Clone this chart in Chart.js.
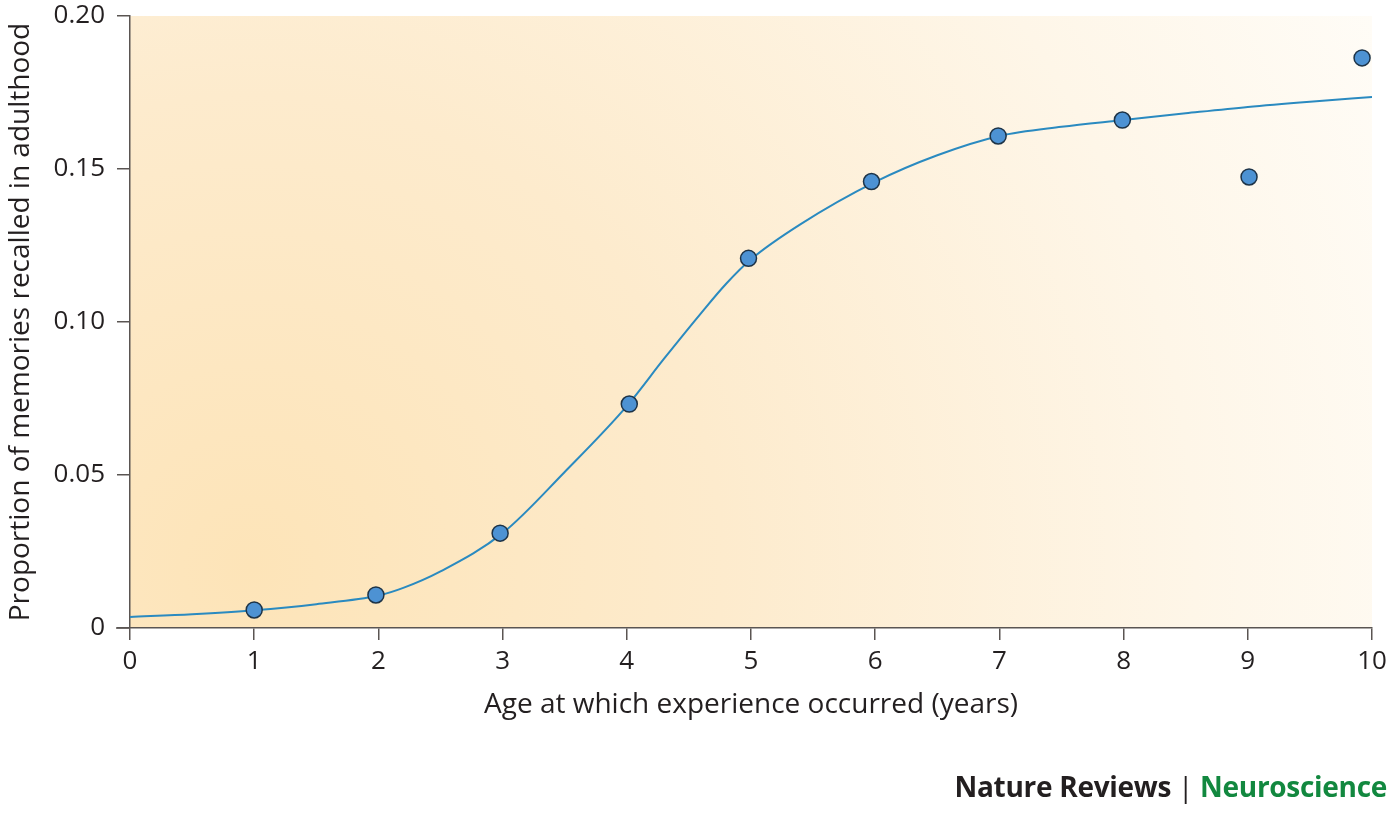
<!DOCTYPE html>
<html>
<head>
<meta charset="utf-8">
<script src="https://cdn.jsdelivr.net/npm/chart.js@4.4.1/dist/chart.umd.min.js"></script>
<style>
  html, body { margin: 0; padding: 0; background: #fff; }
  .wrap { position: relative; width: 1395px; height: 815px; }
  .credit {
    position: absolute; right: 8px; top: 767px;
    font-family: "Open Sans", sans-serif; font-weight: 700; font-size: 28px;
    color: #231f20; letter-spacing: -0.3px;
  }
  .credit .green { color: #12883f; }
  .credit .bar { font-weight: 400; color: #231f20; }
</style>
</head>
<body>
<div class="wrap">
  <canvas id="chart" width="1395" height="815"></canvas>
  <div class="credit">Nature Reviews <span class="bar">|</span> <span class="green">Neuroscience</span></div>
</div>
<script>
/*------data--------*/

// observed points (age, proportion)
var ages = [1, 1.98, 2.98, 4.02, 4.98, 5.97, 6.99, 7.99, 9.01, 9.92];
var proportions = [0.0059, 0.0108, 0.031, 0.0732, 0.1208, 0.1459, 0.1608, 0.166, 0.1474, 0.1863];

// fitted curve
var curveAges = [0, 0.5, 1, 1.5, 2, 2.2, 2.5, 3, 3.5, 4, 4.3, 4.6, 4.8, 5, 5.4, 6, 6.5, 7, 7.5, 8, 8.5, 9, 9.5, 10];
var curveValues = [0.0036, 0.0045, 0.0058, 0.0078, 0.0106, 0.0131, 0.0185, 0.0310, 0.0510, 0.0725, 0.0880, 0.1030, 0.1125, 0.1205, 0.1320, 0.1458, 0.1545, 0.1608, 0.1638, 0.1660, 0.1682, 0.1703, 0.1720, 0.1735];

var xTicks = [0, 1, 2, 3, 4, 5, 6, 7, 8, 9, 10];
var yTicks = [0, 0.05, 0.10, 0.15, 0.20];
var yTickLabels = ['0', '0.05', '0.10', '0.15', '0.20'];

/*------background--------*/

const bgPlugin = {
    id: 'bg',
    beforeDraw: function (chart) {
        const c = chart.ctx;
        const a = chart.chartArea;
        const g = c.createRadialGradient(a.left + 120, a.bottom - 60, 0, a.left + 120, a.bottom - 60, 1350);
        g.addColorStop(0, '#fde4b8');
        g.addColorStop(0.35, '#fdebcd');
        g.addColorStop(0.7, '#fef6e8');
        g.addColorStop(1, '#fffefb');
        c.save();
        c.fillStyle = g;
        c.fillRect(a.left, a.top, a.right - a.left, a.bottom - a.top);
        // x axis line runs a little past the y axis
        c.strokeStyle = '#5a5552';
        c.lineWidth = 1.5;
        c.beginPath();
        c.moveTo(a.left - 14, a.bottom);
        c.lineTo(a.left, a.bottom);
        c.stroke();
        c.restore();
    }
};

/*------chart--------*/

const ctx = document.getElementById('chart').getContext('2d');
const tickFont = { family: '"Open Sans", sans-serif', size: 26 };
const titleFont = { family: '"Open Sans", sans-serif', size: 28 };

const chart = new Chart(ctx, {
    type: 'scatter',
    data: {
        datasets: [{
            type: 'line',
            label: 'fit',
            data: curveAges.map(function (x, i) { return { x: x, y: curveValues[i] }; }),
            borderColor: '#2a8ac0',
            borderWidth: 2,
            pointRadius: 0,
            cubicInterpolationMode: 'monotone',
            fill: false,
            order: 2
        }, {
            label: 'recalled',
            data: ages.map(function (x, i) { return { x: x, y: proportions[i] }; }),
            backgroundColor: '#4d92d3',
            borderColor: '#1d3347',
            borderWidth: 1.5,
            pointRadius: 8,
            order: 1
        }]
    },
    options: {
        responsive: false,
        animation: false,
        clip: false,
        layout: { padding: { top: 16, right: 23, left: 0, bottom: 0 } },
        plugins: { legend: { display: false }, tooltip: { enabled: false } },
        scales: {
            x: {
                type: 'linear',
                min: 0, max: 10,
                afterBuildTicks: function (s) { s.ticks = xTicks.map(function (v) { return { value: v }; }); },
                afterFit: function (s) { s.height = 815 - 628; },
                ticks: { color: '#231f20', font: tickFont, padding: 6 },
                grid: { display: true, drawOnChartArea: false, tickLength: 12, color: '#5a5552', lineWidth: 1.5 },
                border: { display: true, color: '#5a5552', width: 1.5 },
                title: {
                    display: true,
                    text: 'Age at which experience occurred (years)',
                    color: '#231f20',
                    font: titleFont,
                    padding: { top: 0, bottom: 93 }
                }
            },
            y: {
                type: 'linear',
                min: 0, max: 0.2,
                afterBuildTicks: function (s) { s.ticks = yTicks.map(function (v) { return { value: v }; }); },
                afterFit: function (s) {
                    s.width = 130;
                    s.paddingTop = 0;
                    s.paddingBottom = 0;
                },
                ticks: {
                    color: '#231f20', font: tickFont, padding: 12,
                    callback: function (v) { return yTickLabels[yTicks.indexOf(v)]; }
                },
                grid: { display: true, drawOnChartArea: false, tickLength: 13, color: '#5a5552', lineWidth: 1.5 },
                border: { display: true, color: '#5a5552', width: 1.5 },
                title: {
                    display: true,
                    text: 'Proportion of memories recalled in adulthood',
                    color: '#231f20',
                    font: titleFont,
                    padding: { top: 4, bottom: 0 }
                }
            }
        }
    },
    plugins: [bgPlugin]
});
</script>
</body>
</html>
